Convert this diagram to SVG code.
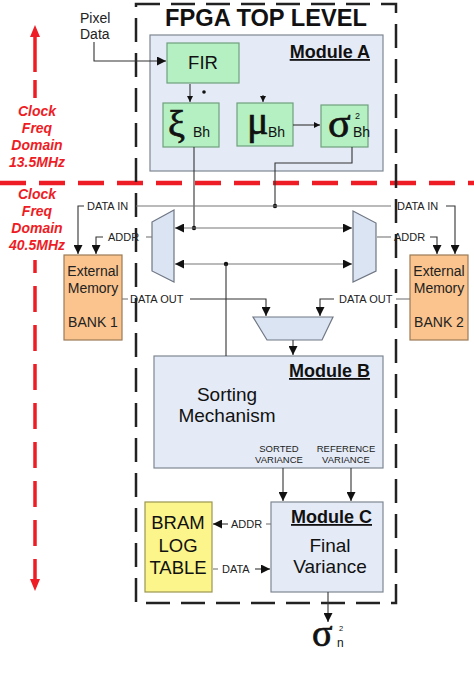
<svg xmlns="http://www.w3.org/2000/svg" width="474" height="676" viewBox="0 0 474 676">
<defs>
<style>
.sans{font-family:"Liberation Sans",Arial,sans-serif;}
.serif{font-family:"Liberation Serif","Times New Roman",serif;}
.gk{fill:#111;stroke:#111;stroke-width:0.7;}
.mod{fill:#e4ebf7;stroke:#7f8792;stroke-width:1.2;}
.grn{fill:#b4f0c2;stroke:#6f9f7c;stroke-width:1.2;}
.mux{fill:#dbe4f3;stroke:#6f7784;stroke-width:1.2;}
.mem{fill:#fbc48e;stroke:#9c7a55;stroke-width:1.2;}
.bram{fill:#fbf58b;stroke:#9c9650;stroke-width:1.2;}
.ttl{font-weight:bold;font-size:18px;text-decoration:underline;fill:#111;}
.big{font-size:19px;fill:#111;}
.lbl{font-size:11px;fill:#222;}
.sm{font-size:9.5px;fill:#222;}
.red{font-weight:bold;font-style:italic;font-size:14px;fill:#ee1c25;}
.ln{fill:none;stroke:#333;stroke-width:1.1;}
.lg{fill:none;stroke:#777;stroke-width:1.1;}
</style>
<marker id="ah" viewBox="0 0 10 10" refX="10" refY="5" markerWidth="9" markerHeight="9" markerUnits="userSpaceOnUse" orient="auto-start-reverse">
<path d="M0,0 L10,5 L0,10 Z" fill="#111"/>
</marker>
<marker id="ahs" viewBox="0 0 10 10" refX="10" refY="5" markerWidth="6" markerHeight="6" markerUnits="userSpaceOnUse" orient="auto-start-reverse">
<path d="M0,0 L10,5 L0,10 Z" fill="#111"/>
</marker>
</defs>
<rect width="474" height="676" fill="#fff"/>

<g id="clock-domains">
<line x1="0" y1="183" x2="474" y2="183" stroke="#ee1c25" stroke-width="4.5" stroke-dasharray="26 13"/>
<polygon points="35,25 30,37 40,37" fill="#ee1c25"/>
<line x1="35" y1="35" x2="35" y2="72" stroke="#ee1c25" stroke-width="3.5"/>
<line x1="35" y1="80" x2="35" y2="98" stroke="#ee1c25" stroke-width="3.5"/>
<text class="sans red" x="37" y="116" text-anchor="middle">Clock</text>
<text class="sans red" x="37" y="133" text-anchor="middle">Freq</text>
<text class="sans red" x="37" y="150" text-anchor="middle">Domain</text>
<text class="sans red" x="37" y="167" text-anchor="middle">13.5MHz</text>
<text class="sans red" x="37" y="199" text-anchor="middle">Clock</text>
<text class="sans red" x="37" y="216" text-anchor="middle">Freq</text>
<text class="sans red" x="37" y="233" text-anchor="middle">Domain</text>
<text class="sans red" x="37" y="250" text-anchor="middle">40.5MHz</text>
<line x1="35" y1="260" x2="35" y2="273" stroke="#ee1c25" stroke-width="3.5"/>
<line x1="35" y1="286" x2="35" y2="583" stroke="#ee1c25" stroke-width="3.5" stroke-dasharray="26 13"/>
<polygon points="35,591 30,579 40,579" fill="#ee1c25"/>
</g>

<g id="fpga-top-level">
<rect x="136" y="4" width="260" height="599" fill="none" stroke="#222" stroke-width="2.5" stroke-dasharray="24 11"/>
<text class="sans" x="165" y="26" font-weight="bold" font-size="23" textLength="202" lengthAdjust="spacingAndGlyphs" fill="#111">FPGA TOP LEVEL</text>
</g>

<g id="module-a">
<rect class="mod" x="150" y="35" width="233" height="136"/>
<text class="sans ttl" x="370" y="58" text-anchor="end">Module A</text>
</g>

<g id="fir">
<rect class="grn" x="167" y="43" width="72" height="40"/>
<text class="sans" x="203" y="69" text-anchor="middle" font-size="18.5" fill="#111">FIR</text>
</g>

<g id="xi-bh">
<rect class="grn" x="163" y="103" width="56" height="44"/>
<text class="serif gk" x="168" y="137" font-size="38">ξ</text>
<text class="sans" x="193" y="137" font-size="14" fill="#111">Bh</text>
</g>

<g id="mu-bh">
<rect class="grn" x="237" y="103" width="56" height="43"/>
<text class="serif gk" x="247" y="134" font-size="40">μ</text>
<text class="sans" x="268" y="137" font-size="14" fill="#111">Bh</text>
</g>

<g id="sigma-bh">
<rect class="grn" x="321" y="105" width="47" height="42"/>
<text class="serif gk" x="328" y="137" font-size="42">σ</text>
<text class="sans" x="355" y="119" font-size="9" fill="#111">2</text>
<text class="sans" x="353" y="137" font-size="14" fill="#111">Bh</text>
</g>

<g id="pixel-data">
<text class="sans" x="80" y="23" font-size="14" fill="#222">Pixel</text>
<text class="sans" x="80" y="39" font-size="14" fill="#222">Data</text>
</g>

<g id="mux-left">
<polygon class="mux" points="152,222 174,210 174,282 152,271"/>
</g>
<g id="mux-right">
<polygon class="mux" points="353,211 376,223 376,271 353,282"/>
</g>
<g id="mux-bottom">
<polygon class="mux" points="253,317 333,317 322,340 267,340"/>
</g>

<g id="memory-bank-1">
<rect class="mem" x="64" y="255" width="58" height="85"/>
<text class="sans" x="93" y="276" text-anchor="middle" font-size="14" fill="#222">External</text>
<text class="sans" x="93" y="293" text-anchor="middle" font-size="14" fill="#222">Memory</text>
<text class="sans" x="93" y="327" text-anchor="middle" font-size="14" fill="#222">BANK 1</text>
</g>

<g id="memory-bank-2">
<rect class="mem" x="410" y="255" width="58" height="85"/>
<text class="sans" x="439" y="276" text-anchor="middle" font-size="14" fill="#222">External</text>
<text class="sans" x="439" y="293" text-anchor="middle" font-size="14" fill="#222">Memory</text>
<text class="sans" x="439" y="327" text-anchor="middle" font-size="14" fill="#222">BANK 2</text>
</g>

<g id="module-b">
<rect class="mod" x="154" y="356" width="229" height="112"/>
<text class="sans ttl" x="370" y="377" text-anchor="end">Module B</text>
<text class="sans big" x="227" y="401" text-anchor="middle">Sorting</text>
<text class="sans big" x="227" y="422" text-anchor="middle">Mechanism</text>
<text class="sans sm" x="279" y="452" text-anchor="middle">SORTED</text>
<text class="sans sm" x="279" y="463" text-anchor="middle">VARIANCE</text>
<text class="sans sm" x="346" y="452" text-anchor="middle">REFERENCE</text>
<text class="sans sm" x="346" y="463" text-anchor="middle">VARIANCE</text>
</g>

<g id="module-c">
<rect class="mod" x="271" y="502" width="112" height="90"/>
<text class="sans ttl" x="372" y="523" text-anchor="end">Module C</text>
<text class="sans big" x="330" y="552" text-anchor="middle">Final</text>
<text class="sans big" x="330" y="573" text-anchor="middle">Variance</text>
</g>

<g id="bram-log-table">
<rect class="bram" x="145" y="502" width="67" height="90"/>
<text class="sans" x="178" y="529" text-anchor="middle" font-size="18.5" fill="#111">BRAM</text>
<text class="sans" x="178" y="552" text-anchor="middle" font-size="18.5" fill="#111">LOG</text>
<text class="sans" x="178" y="574" text-anchor="middle" font-size="18.5" fill="#111">TABLE</text>
</g>

<g id="output-sigma-n">
<text class="serif gk" x="312" y="646" font-size="38">σ</text>
<text class="sans" x="339" y="631" font-size="7.5" fill="#111">2</text>
<text class="sans" x="337" y="647" font-size="12" fill="#111">n</text>
</g>

<g id="connectors">
<path class="ln" d="M94,42 V61 H166" marker-end="url(#ah)"/>
<path class="ln" d="M190,84 V102" marker-end="url(#ahs)"/>
<circle cx="204" cy="92" r="1.8" fill="#111"/>
<path class="ln" d="M263,95 V102" marker-end="url(#ahs)"/>
<path class="ln" d="M293,125 H320" marker-end="url(#ahs)"/>
<path class="ln" d="M194,147 V228"/>
<circle cx="194" cy="228" r="2.2" fill="#111"/>
<path class="ln" d="M352,147 V163 H275 V206"/>
<circle cx="275" cy="206" r="2.2" fill="#111"/>
<path class="lg" d="M136,206 H391"/>
<path class="ln" d="M84,206 H78 V254" marker-end="url(#ah)"/>
<text class="sans lbl" x="87" y="210">DATA IN</text>
<path class="ln" d="M446,206 H455 V254" marker-end="url(#ah)"/>
<text class="sans lbl" x="397" y="210">DATA IN</text>
<path class="ln" d="M103,237 H96 V254" marker-end="url(#ah)"/>
<text class="sans lbl" x="108" y="241">ADDR</text>
<path class="lg" d="M146,237 H152"/>
<path class="lg" d="M377,237 H391"/>
<text class="sans lbl" x="394" y="241">ADDR</text>
<path class="ln" d="M430,237 H437 V254" marker-end="url(#ah)"/>
<path class="lg" d="M175,228 H352" marker-start="url(#ah)" marker-end="url(#ah)"/>
<path class="lg" d="M175,264 H352" marker-start="url(#ah)" marker-end="url(#ah)"/>
<circle cx="226" cy="264" r="2.2" fill="#111"/>
<path class="ln" d="M226,264 V356"/>
<path class="lg" d="M122,299 H128"/>
<text class="sans lbl" x="130" y="303">DATA OUT</text>
<path class="ln" d="M190,299 H266 V316" marker-end="url(#ah)"/>
<path class="ln" d="M334,299 H320 V316" marker-end="url(#ah)"/>
<text class="sans lbl" x="339" y="303">DATA OUT</text>
<path class="lg" d="M396,299 H410"/>
<path class="ln" d="M293,340 V355" marker-end="url(#ah)"/>
<path class="ln" d="M283,468 V501" marker-end="url(#ah)"/>
<path class="ln" d="M351,468 V501" marker-end="url(#ah)"/>
<path class="lg" d="M271,524 H266"/>
<path class="ln" d="M228,524 H213" marker-end="url(#ah)"/>
<text class="sans lbl" x="231" y="528">ADDR</text>
<path class="lg" d="M213,569 H218"/>
<text class="sans lbl" x="222" y="573">DATA</text>
<path class="ln" d="M255,569 H270" marker-end="url(#ah)"/>
<path class="ln" d="M328,592 V622" marker-end="url(#ah)"/>
</g>
</svg>
